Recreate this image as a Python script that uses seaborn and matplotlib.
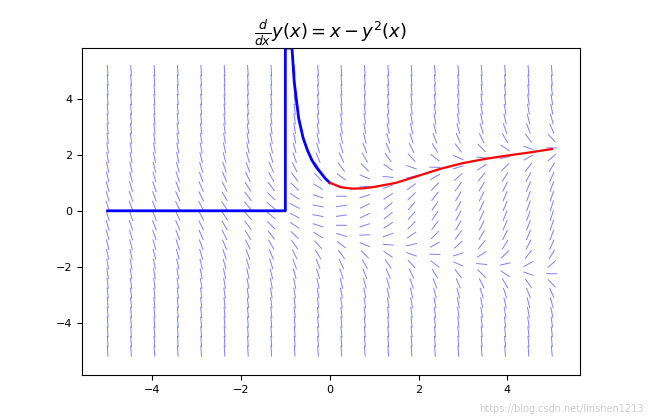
import numpy as np
import matplotlib
matplotlib.use("Agg")
import matplotlib.pyplot as plt
import seaborn as sns
from matplotlib.collections import LineCollection

# grid of the direction field (20 columns, 30 rows over [-5, 5])
grid_x = list(np.linspace(-5, 5, 20))
grid_y = list(np.linspace(-5, 5, 30))

# blue curve (as drawn): flat piece, vertical jump, then falling branch
blue_x = [-5, -1, -1, -1, -0.85, -0.8, -0.7, -0.6, -0.5, -0.4, -0.3, -0.2, -0.1, 0.0]
blue_y = [0, 0, 0, 5.8, 5.8, 4.6, 3.3, 2.6, 2.15, 1.8, 1.55, 1.35, 1.15, 1.0]

# red solution curve from y(0)=1
red_x = [0.0, 0.25, 0.5, 0.75, 1.0, 1.5, 2.0, 2.5, 3.0, 3.5, 4.0, 4.5, 5.0]
red_y = [1.0, 0.84, 0.79, 0.80, 0.85, 1.0, 1.25, 1.5, 1.7, 1.85, 1.97, 2.08, 2.2]

fig = plt.figure(figsize=(6.5, 4.18), dpi=100)
ax = fig.add_axes([0.126, 0.103, 0.766, 0.782])

# x/y pixels per unit, used to keep segment lengths equal on screen
px_x, px_y, half = 44.4, 28.0, 5.5
segs = []
for x in grid_x:
    for y in grid_y:
        s = x - y ** 2
        th = np.arctan2(px_y * s, px_x)
        dx = half * np.cos(th) / px_x
        dy = half * np.sin(th) / px_y
        segs.append([(x - dx, y - dy), (x + dx, y + dy)])
ax.add_collection(LineCollection(segs, colors="blue", linewidths=0.7, alpha=0.5))

sns.lineplot(x=blue_x, y=blue_y, ax=ax, color="blue", linewidth=2, sort=False, estimator=None)
sns.lineplot(x=red_x, y=red_y, ax=ax, color="red", linewidth=1.6, sort=False, estimator=None)

ax.set_xlim(-5.58, 5.63)
ax.set_ylim(-5.85, 5.8)
ax.set_xticks([-4, -2, 0, 2, 4])
ax.set_yticks([-4, -2, 0, 2, 4])
ax.tick_params(labelsize=8)
ax.set_title(r"$\frac{d}{dx}y(x) = x - y^2(x)$", fontsize=13, pad=2)
fig.text(0.99, 0.01, "https://blog.csdn.net/linshen1213", ha="right", va="bottom",
         fontsize=7, color="#cccccc")

fig.savefig("out.png", dpi=100)
